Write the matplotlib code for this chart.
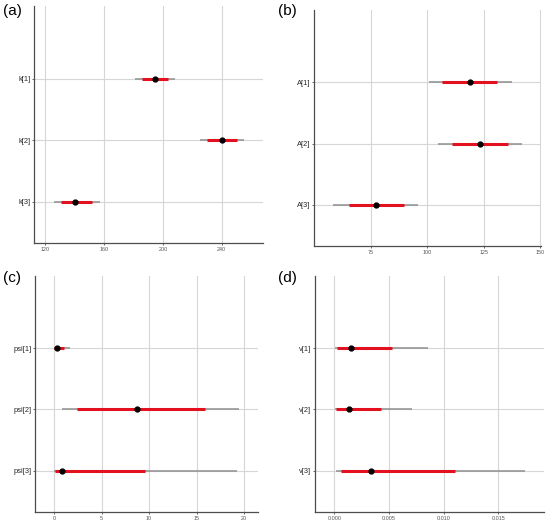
import matplotlib
matplotlib.use("Agg")
import matplotlib.pyplot as plt

plt.rcParams['font.family'] = ['Liberation Sans', 'DejaVu Sans']

# ---- data ----
k_labels = ["k[1]", "k[2]", "k[3]"]
k_mid = [194.3, 240.0, 140.4]
k_in_lo = [185.7, 230.2, 130.7]
k_in_hi = [203.4, 250.0, 151.6]
k_out_lo = [180.7, 225.0, 125.9]
k_out_hi = [208.4, 255.0, 157.3]
k_ticks = [120, 160, 200, 240]

A_labels = ["A[1]", "A[2]", "A[3]"]
A_mid = [118.9, 123.4, 77.3]
A_in_lo = [106.7, 111.1, 65.4]
A_in_hi = [131.0, 135.6, 89.7]
A_out_lo = [100.9, 104.6, 58.5]
A_out_hi = [137.4, 141.8, 95.8]
A_ticks = [75, 100, 125, 150]

psi_labels = ["psi[1]", "psi[2]", "psi[3]"]
psi_mid = [0.28, 8.74, 0.88]
psi_in_lo = [0.0, 2.45, 0.14]
psi_in_hi = [1.05, 15.86, 9.58]
psi_out_lo = [0.0, 0.84, 0.0]
psi_out_hi = [1.68, 19.44, 19.3]
psi_ticks = [0, 5, 10, 15, 20]

v_labels = ["v[1]", "v[2]", "v[3]"]
v_mid = [0.00155, 0.00132, 0.00335]
v_in_lo = [0.00027, 0.00018, 0.00058]
v_in_hi = [0.0053, 0.00427, 0.01103]
v_out_lo = [0.0001, 0.0001, 0.00015]
v_out_hi = [0.00854, 0.00707, 0.01743]
v_ticks = [0.000, 0.005, 0.010, 0.015]

panels = [
    ("(a)", k_labels, k_mid, k_in_lo, k_in_hi, k_out_lo, k_out_hi, k_ticks,
     ["120", "160", "200", "240"], (112.3, 268.0), [34/550, 1-243/522, (263-34)/550, (243-6)/522]),
    ("(b)", A_labels, A_mid, A_in_lo, A_in_hi, A_out_lo, A_out_hi, A_ticks,
     ["75", "100", "125", "150"], (50.0, 150.4), [314.3/550, 1-246/522, (541-314.3)/550, (246-10)/522]),
    ("(c)", psi_labels, psi_mid, psi_in_lo, psi_in_hi, psi_out_lo, psi_out_hi, psi_ticks,
     ["0", "5", "10", "15", "20"], (-2.0, 21.5), [35/550, 1-511.7/522, (258.3-35)/550, (511.7-276)/522]),
    ("(d)", v_labels, v_mid, v_in_lo, v_in_hi, v_out_lo, v_out_hi, v_ticks,
     ["0.000", "0.005", "0.010", "0.015"], (-0.00176, 0.0192), [315/550, 1-511.7/522, (544.3-315)/550, (511.7-276)/522]),
]

label_pos = {"(a)": (3/550, 1-11/522), "(b)": (278/550, 1-11/522),
             "(c)": (3/550, 1-278/522), "(d)": (278/550, 1-278/522)}

fig = plt.figure(figsize=(5.5, 5.22), dpi=100)
fig.patch.set_facecolor("white")

for (tag, labels, mid, ilo, ihi, olo, ohi, ticks, ticklabels, xlim, rect) in panels:
    ax = fig.add_axes(rect)
    ys = [3, 2, 1]
    ax.set_xlim(*xlim)
    ax.set_ylim(0.33, 4.18)
    ax.set_xticks(ticks)
    ax.set_xticklabels(ticklabels)
    ax.set_yticks(ys)
    ax.set_yticklabels(labels)
    ax.grid(True, color="#d6d6d6", linewidth=0.8, zorder=0)
    ax.set_axisbelow(True)
    for y, m, a, b, c, d in zip(ys, mid, ilo, ihi, olo, ohi):
        ax.plot([c, d], [y, y], color="#8f8f8f", linewidth=1.1, solid_capstyle="butt", zorder=2)
        ax.plot([a, b], [y, y], color="#e3101f", linewidth=2.2, solid_capstyle="butt", zorder=3)
        ax.plot([m], [y], "o", color="black", markersize=3.5, zorder=4)
    for s in ["top", "right"]:
        ax.spines[s].set_visible(False)
    for s in ["left", "bottom"]:
        ax.spines[s].set_color("#4d4d4d")
        ax.spines[s].set_linewidth(0.9)
    ax.tick_params(axis="y", length=1.5, width=0.6, color="#4d4d4d", pad=1,
                   labelsize=5.4, labelcolor="#262626")
    ax.tick_params(axis="x", length=1.5, width=0.6, color="#4d4d4d", pad=1.5,
                   labelsize=3.9, labelcolor="#555555")
    ax.set_facecolor("white")
    fig.text(label_pos[tag][0], label_pos[tag][1], tag, fontsize=11,
             ha="left", va="center", color="black")

fig.savefig("out.png", dpi=100, facecolor="white")
